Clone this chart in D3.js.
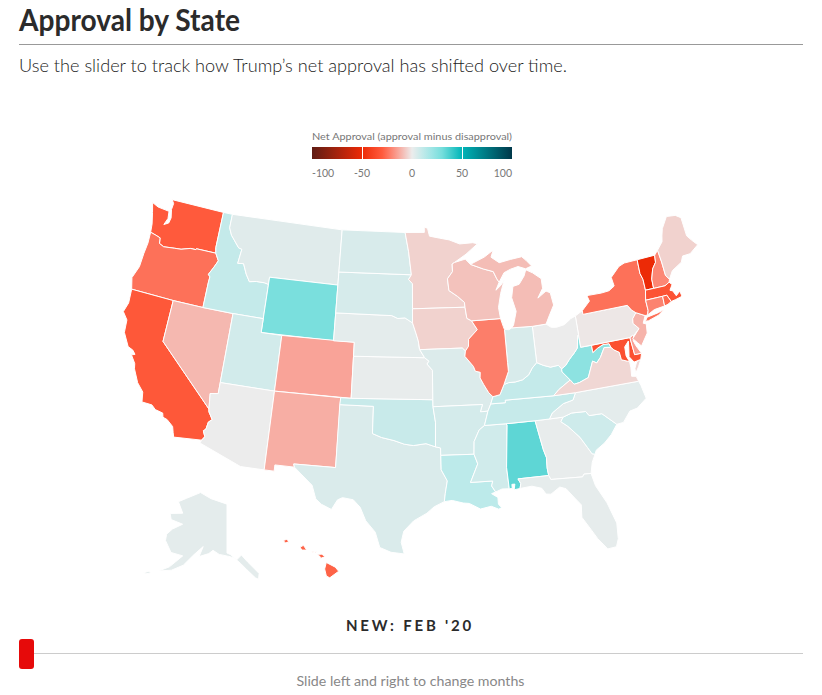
<!DOCTYPE html>
<html><head><meta charset="utf-8">
<script src="https://cdn.jsdelivr.net/npm/d3@7"></script>
<style>html,body{margin:0;padding:0;background:#fff}svg{display:block}</style>
</head><body><svg id="c" width="822" height="695"></svg>
<script>
const titleText = "Approval by State";
const subtitleText = "Use the slider to track how Trump\u2019s net approval has shifted over time.";
const legendTitle = "Net Approval (approval minus disapproval)";
const legendTicks = [-100,-50,0,50,100];
const sliderLabel = "NEW: FEB '20";
const sliderHint = "Slide left and right to change months";
const colorDomain = [-100,-50,-30,-15,0,15,30,50,100];
const colorRange = ['#5f1c14','#ec2a06','#ff5a3c','#fa9e92','#ececec','#b0e9e9','#76dedc','#00b5b8','#00384a'];
const netApproval = {WA:-30,OR:-25,CA:-31,NV:-10,ID:10,MT:3,WY:29,UT:6.5,CO:-14,AZ:0,NM:-12,ND:5,SD:5.5,NE:2,KS:1,OK:9,TX:4.5,MN:-5,IA:-5,MO:4,AR:6,LA:12,WI:-8,IL:-22,MS:7,MI:-9,IN:5,KY:10,TN:9.5,AL:34,OH:0,WV:24,VA:-4,NC:2,SC:7.5,GA:1,FL:1.5,PA:-1,NY:-25,VT:-50,NH:-20,ME:-5,MA:-33,CT:-21,RI:-27,NJ:-11,DE:-15,MD:-34,AK:2,HI:-28};
// State outlines, longitude/latitude rings
const outlines = {
WA:[[[-124.7,48.4],[-124.4,47.7],[-124.1,46.9],[-124,46.3],[-123.4,46.2],[-122.9,46.1],[-122.8,45.7],[-122.3,45.55],[-121.2,45.65],[-120.5,45.7],[-119.6,45.92],[-119,45.93],[-118.98,46],[-116.92,46],[-117.04,46.4],[-117.04,49],[-122.76,49],[-122.5,48.75],[-122.55,48.3],[-122.35,47.7],[-122.45,47.3],[-122.9,47.1],[-122.65,47.6],[-122.75,48.12],[-123.2,48.15],[-124,48.2]]],
OR:[[[-124,46.3],[-123.4,46.2],[-122.9,46.1],[-122.8,45.7],[-122.3,45.55],[-121.2,45.65],[-120.5,45.7],[-119.6,45.92],[-119,45.93],[-118.98,46],[-116.92,46],[-116.5,45.5],[-116.8,45],[-117.2,44.4],[-117,44.25],[-117.03,43.8],[-117.03,42],[-120,42],[-124.2,42],[-124.5,42.8],[-124.1,43.7],[-124.05,44.7],[-123.95,45.5]]],
CA:[[[-124.2,42],[-120,42],[-120,39],[-114.6,35],[-114.55,34.8],[-114.14,34.3],[-114.43,34.08],[-114.53,33.55],[-114.72,33.4],[-114.5,33],[-114.72,32.72],[-117.12,32.53],[-117.25,32.85],[-117.4,33.25],[-118,33.65],[-118.4,33.75],[-118.5,34.03],[-119.2,34.15],[-119.6,34.42],[-120.5,34.45],[-120.65,35.15],[-121.3,35.7],[-121.9,36.6],[-122,36.96],[-122.5,37.5],[-122.2,37.6],[-122.5,37.85],[-123,38],[-123.7,38.9],[-123.8,39.8],[-124.35,40.3],[-124.1,41]]],
NV:[[[-120,42],[-117.03,42],[-114.04,42],[-114.04,36.2],[-114.75,36.1],[-114.6,35],[-120,39]]],
ID:[[[-117.04,49],[-116.05,49],[-116.05,48],[-115.7,47.5],[-114.7,46.7],[-114.35,46.65],[-114.5,45.6],[-113.9,45.65],[-113.45,44.95],[-113,44.45],[-112.3,44.55],[-111.5,44.55],[-111.05,44.48],[-111.05,42],[-114.04,42],[-117.03,42],[-117.03,43.8],[-117,44.25],[-117.2,44.4],[-116.8,45],[-116.5,45.5],[-116.92,46],[-117.04,46.4]]],
MT:[[[-116.05,49],[-104.05,49],[-104.05,45],[-111.05,45],[-111.05,44.48],[-111.5,44.55],[-112.3,44.55],[-113,44.45],[-113.45,44.95],[-113.9,45.65],[-114.5,45.6],[-114.35,46.65],[-114.7,46.7],[-115.7,47.5],[-116.05,48]]],
WY:[[[-111.05,45],[-104.05,45],[-104.05,41],[-111.05,41]]],
UT:[[[-114.04,42],[-111.05,42],[-111.05,41],[-109.05,41],[-109.05,37],[-114.04,37]]],
CO:[[[-109.05,41],[-102.05,41],[-102.05,37],[-109.05,37]]],
AZ:[[[-114.04,37],[-109.05,37],[-109.05,31.33],[-111.07,31.33],[-114.81,32.5],[-114.72,32.72],[-114.5,33],[-114.72,33.4],[-114.53,33.55],[-114.43,34.08],[-114.14,34.3],[-114.55,34.8],[-114.6,35],[-114.75,36.1],[-114.04,36.2]]],
NM:[[[-109.05,37],[-103,37],[-103.04,32],[-106.62,32],[-106.53,31.78],[-108.2,31.78],[-108.2,31.33],[-109.05,31.33]]],
TX:[[[-103.04,36.5],[-100,36.5],[-100,34.56],[-99.2,34.3],[-98.1,34.1],[-97.2,33.85],[-96.4,33.75],[-95.3,33.88],[-94.48,33.64],[-94.04,33.55],[-94.04,33.02],[-94.04,31.99],[-93.55,31.18],[-93.75,30.3],[-93.85,29.7],[-94.7,29.35],[-95.3,28.9],[-96.4,28.35],[-97.2,27.6],[-97.4,26.8],[-97.15,25.96],[-98.2,26.07],[-99.1,26.4],[-99.5,27.5],[-100.3,28.3],[-100.8,29.25],[-101.4,29.77],[-102.3,29.88],[-102.7,29.7],[-103.15,28.98],[-104,29.3],[-104.5,29.65],[-104.9,30.6],[-106,31.4],[-106.53,31.78],[-106.62,32],[-103.04,32]]],
OK:[[[-103,37],[-102.05,37],[-94.62,37],[-94.62,36.5],[-94.43,35.4],[-94.48,33.64],[-95.3,33.88],[-96.4,33.75],[-97.2,33.85],[-98.1,34.1],[-99.2,34.3],[-100,34.56],[-100,36.5],[-103.04,36.5]]],
KS:[[[-102.05,40],[-95.31,40],[-94.9,39.75],[-95.1,39.55],[-94.6,39.1],[-94.62,37],[-102.05,37]]],
NE:[[[-104.05,43],[-98.5,43],[-97.9,42.8],[-97.2,42.85],[-96.45,42.49],[-96.1,41.7],[-95.9,41.2],[-95.8,40.6],[-95.31,40],[-102.05,40],[-102.05,41],[-104.05,41]]],
SD:[[[-104.05,45.94],[-96.56,45.94],[-96.85,45.6],[-96.45,45.3],[-96.45,43.5],[-96.45,42.49],[-97.2,42.85],[-97.9,42.8],[-98.5,43],[-104.05,43]]],
ND:[[[-104.05,49],[-97.23,49],[-96.85,47.6],[-96.56,45.94],[-104.05,45.94]]],
MN:[[[-97.23,49],[-95.15,49],[-95.15,49.38],[-94.8,49.3],[-94.6,48.72],[-93.5,48.55],[-92.5,48.4],[-91.4,48.07],[-90,48.1],[-89.5,48],[-90.8,47.3],[-92.05,46.75],[-92.3,46.65],[-92.3,46.1],[-92.85,45.6],[-92.75,44.75],[-91.9,44.3],[-91.25,43.85],[-91.22,43.5],[-96.45,43.5],[-96.45,45.3],[-96.85,45.6],[-96.56,45.94],[-96.85,47.6]]],
IA:[[[-96.45,43.5],[-91.22,43.5],[-91.1,42.7],[-90.65,42.5],[-90.15,41.85],[-91.05,41.2],[-91.1,40.7],[-91.42,40.38],[-91.7,40.6],[-95.77,40.58],[-95.9,41.2],[-96.1,41.7],[-96.45,42.49]]],
MO:[[[-95.77,40.58],[-91.7,40.6],[-91.42,40.38],[-91.5,40],[-90.75,39.25],[-90.6,38.9],[-90.15,38.8],[-90.2,38.4],[-89.9,37.9],[-89.5,37.3],[-89.15,37],[-89.4,36.5],[-89.7,36],[-90.38,35.99],[-90.15,36.5],[-94.62,36.5],[-94.62,37],[-94.6,39.1],[-95.1,39.55],[-94.9,39.75],[-95.31,40]]],
AR:[[[-94.62,36.5],[-90.15,36.5],[-90.38,35.99],[-89.7,36],[-90.1,35],[-90.6,34.7],[-91.1,33.9],[-91.17,33],[-94.04,33.02],[-94.04,33.55],[-94.48,33.64],[-94.43,35.4]]],
LA:[[[-94.04,33.02],[-91.17,33],[-90.9,32.3],[-91.6,31],[-89.73,31],[-89.85,30.65],[-89.55,30.2],[-89.9,30.1],[-89.4,29.8],[-89.4,29.3],[-89.15,29.05],[-89.4,28.95],[-90,29.2],[-90.9,29.05],[-91.8,29.5],[-92.3,29.55],[-93.2,29.77],[-93.85,29.7],[-93.75,30.3],[-93.55,31.18],[-94.04,31.99]]],
MS:[[[-91.17,33],[-91.1,33.9],[-90.6,34.7],[-90.1,35],[-88.2,35],[-88.1,34.9],[-88.47,31.9],[-88.4,30.35],[-89,30.38],[-89.55,30.2],[-89.85,30.65],[-89.73,31],[-91.6,31],[-90.9,32.3]]],
AL:[[[-88.2,35],[-85.6,35],[-85.18,32.87],[-85,32.3],[-85.05,31.55],[-85,31],[-87.6,31],[-87.4,30.65],[-87.5,30.3],[-88,30.25],[-87.9,30.65],[-88.15,30.65],[-88.15,30.35],[-88.4,30.35],[-88.47,31.9],[-88.1,34.9]]],
GA:[[[-85.6,35],[-84.32,35],[-83.1,35],[-83.35,34.7],[-82.8,34.3],[-81.9,33.4],[-81.4,32.6],[-81.1,32.1],[-80.85,32.03],[-81.2,31.5],[-81.45,30.72],[-82.05,30.75],[-82.2,30.57],[-84.86,30.7],[-85,31],[-85.05,31.55],[-85,32.3],[-85.18,32.87]]],
FL:[[[-87.6,31],[-85,31],[-84.86,30.7],[-82.2,30.57],[-82.05,30.75],[-81.45,30.72],[-81.25,29.8],[-80.55,28.45],[-80.05,26.9],[-80.15,25.75],[-80.4,25.2],[-81.1,25.15],[-81.75,26],[-82.15,26.7],[-82.75,27.7],[-82.65,28.6],[-83.1,29.15],[-83.7,29.9],[-84.2,30.08],[-85,29.65],[-85.4,29.7],[-85.7,30.15],[-86.5,30.38],[-87.5,30.3],[-87.4,30.65]]],
SC:[[[-83.1,35],[-82.3,35.2],[-81.05,35.15],[-80.8,34.82],[-79.67,34.8],[-78.55,33.86],[-79.2,33.2],[-79.9,32.7],[-80.7,32.3],[-80.85,32.03],[-81.1,32.1],[-81.4,32.6],[-81.9,33.4],[-82.8,34.3],[-83.35,34.7]]],
NC:[[[-84.32,35],[-83.1,35],[-82.3,35.2],[-81.05,35.15],[-80.8,34.82],[-79.67,34.8],[-78.55,33.86],[-77.95,33.9],[-77.2,34.6],[-76.5,34.7],[-75.55,35.25],[-75.75,36.2],[-75.87,36.55],[-81.68,36.59],[-82,36.1],[-82.9,35.95],[-84,35.4]]],
TN:[[[-90.1,35],[-88.2,35],[-85.6,35],[-84.32,35],[-84,35.4],[-82.9,35.95],[-82,36.1],[-81.68,36.59],[-83.68,36.6],[-88.07,36.68],[-88.07,36.5],[-89.4,36.5],[-89.7,36]]],
KY:[[[-89.4,36.5],[-88.07,36.5],[-88.07,36.68],[-83.68,36.6],[-83.1,37],[-81.97,37.54],[-82.6,38.2],[-82.6,38.42],[-82.85,38.7],[-83.6,38.65],[-84.25,38.85],[-84.82,39.1],[-85.3,38.75],[-85.7,38.3],[-86.3,38],[-87,37.9],[-87.6,37.9],[-88.05,37.8],[-88.5,37.1],[-89.15,37]]],
WV:[[[-82.6,38.42],[-82.2,38.6],[-81.75,39],[-81.2,39.4],[-80.85,39.7],[-80.6,40.6],[-80.52,40.64],[-80.52,39.72],[-79.48,39.72],[-79.48,39.2],[-78.95,39.45],[-78.4,39.62],[-77.83,39.6],[-77.72,39.32],[-78.35,39.4],[-78.87,38.76],[-79.3,38.42],[-79.65,38.6],[-80.3,37.5],[-81.2,37.25],[-81.68,37.2],[-81.97,37.54],[-82.6,38.2]]],
VA:[[[-83.68,36.6],[-81.68,36.59],[-75.87,36.55],[-76,36.93],[-76.4,37],[-76.3,37.6],[-76.3,38.05],[-77,38.3],[-77.05,38.85],[-77.5,39.1],[-77.72,39.32],[-78.35,39.4],[-78.87,38.76],[-79.3,38.42],[-79.65,38.6],[-80.3,37.5],[-81.2,37.25],[-81.68,37.2],[-81.97,37.54],[-83.1,37]],[[-75.98,37.15],[-75.6,37.55],[-75.25,38.03],[-75.65,37.95],[-75.95,37.5]]],
MD:[[[-79.48,39.72],[-75.79,39.72],[-75.7,38.46],[-75.05,38.45],[-75.25,38.03],[-75.9,37.95],[-76.25,38.4],[-76.1,39],[-76,39.5],[-76.45,39.15],[-76.5,38.5],[-76.3,38.05],[-77,38.3],[-77.05,38.85],[-77.5,39.1],[-77.72,39.32],[-77.83,39.6],[-78.4,39.62],[-78.95,39.45],[-79.48,39.2]]],
DE:[[[-75.79,39.72],[-75.5,39.84],[-75.4,39.8],[-75.55,39.45],[-75.4,39.05],[-75.05,38.45],[-75.7,38.46]]],
PA:[[[-80.52,41.98],[-79.76,42.27],[-79.76,42],[-75.35,42],[-75.05,41.6],[-74.7,41.35],[-75.13,40.98],[-75.2,40.65],[-74.75,40.2],[-75.4,39.8],[-75.5,39.84],[-75.79,39.72],[-80.52,39.72],[-80.52,40.64]]],
NJ:[[[-74.7,41.35],[-73.9,41],[-74.25,40.5],[-73.98,40.4],[-74.1,39.75],[-74.9,38.95],[-75.2,39.25],[-75.55,39.6],[-74.75,40.2],[-75.2,40.65],[-75.13,40.98]]],
NY:[[[-79.76,42.27],[-79.76,42],[-75.35,42],[-75.05,41.6],[-74.7,41.35],[-73.9,41],[-73.65,41],[-73.5,41.3],[-73.5,42.05],[-73.27,42.75],[-73.25,43.55],[-73.4,44],[-73.34,45.01],[-74.7,45],[-75.3,44.85],[-76.3,44.2],[-76.2,43.55],[-76.8,43.3],[-77.6,43.25],[-79.05,43.27],[-78.9,42.85]],[[-74,40.6],[-73.75,40.85],[-72.6,40.97],[-72,41.1],[-72.6,40.8],[-73.7,40.58]]],
VT:[[[-73.34,45.01],[-71.5,45.01],[-71.6,44.5],[-72.05,44.1],[-72.4,43.4],[-72.45,42.73],[-73.27,42.75],[-73.25,43.55],[-73.4,44]]],
NH:[[[-71.5,45.01],[-71.08,45.3],[-71,44.4],[-70.98,43.4],[-70.7,43.07],[-70.82,42.87],[-71.3,42.7],[-72.45,42.73],[-72.4,43.4],[-72.05,44.1],[-71.6,44.5]]],
ME:[[[-71.08,45.3],[-70.4,45.8],[-70.25,46.2],[-70,46.7],[-69.23,47.46],[-68.3,47.35],[-67.8,47.07],[-67.8,45.7],[-67.45,45.3],[-67,44.85],[-68,44.4],[-68.8,44.4],[-69.1,44],[-70.2,43.6],[-70.7,43.07],[-70.98,43.4],[-71,44.4]]],
MA:[[[-73.5,42.05],[-71.8,42.02],[-71.38,42.02],[-71.12,41.5],[-70.65,41.55],[-69.98,41.65],[-70.05,42.05],[-70.5,41.8],[-70.7,42.2],[-70.95,42.3],[-70.6,42.65],[-70.82,42.87],[-71.3,42.7],[-72.45,42.73],[-73.27,42.75]]],
CT:[[[-73.5,42.05],[-71.8,42.02],[-71.85,41.32],[-72.9,41.25],[-73.65,41],[-73.5,41.3]]],
RI:[[[-71.8,42.02],[-71.38,42.02],[-71.12,41.5],[-71.5,41.37],[-71.85,41.32]]],
OH:[[[-84.82,39.1],[-84.8,41.7],[-83.45,41.73],[-83,41.45],[-82.5,41.4],[-81.7,41.5],[-81,41.85],[-80.52,41.98],[-80.52,40.64],[-80.6,40.6],[-80.85,39.7],[-81.2,39.4],[-81.75,39],[-82.2,38.6],[-82.6,38.42],[-82.85,38.7],[-83.6,38.65],[-84.25,38.85]]],
IN:[[[-87.52,41.7],[-87.1,41.65],[-86.8,41.76],[-84.8,41.7],[-84.82,39.1],[-85.3,38.75],[-85.7,38.3],[-86.3,38],[-87,37.9],[-87.6,37.9],[-88.05,37.8],[-87.53,38.7],[-87.53,39.35]]],
IL:[[[-90.65,42.5],[-87.8,42.5],[-87.6,41.9],[-87.52,41.7],[-87.53,39.35],[-87.53,38.7],[-88.05,37.8],[-88.5,37.1],[-89.15,37],[-89.5,37.3],[-89.9,37.9],[-90.2,38.4],[-90.15,38.8],[-90.6,38.9],[-90.75,39.25],[-91.5,40],[-91.42,40.38],[-91.1,40.7],[-91.05,41.2],[-90.15,41.85]]],
WI:[[[-92.3,46.65],[-92.05,46.75],[-90.9,46.95],[-90.4,46.55],[-89.1,46.15],[-88.1,45.9],[-87.8,45.35],[-87.6,45.1],[-88,44.55],[-87.4,44.9],[-87.05,45.25],[-87.55,44.3],[-87.9,43.3],[-87.8,42.5],[-90.65,42.5],[-91.1,42.7],[-91.22,43.5],[-91.25,43.85],[-91.9,44.3],[-92.75,44.75],[-92.85,45.6],[-92.3,46.1]]],
MI:[[[-86.8,41.76],[-84.8,41.7],[-83.45,41.73],[-83.1,42.2],[-82.45,43],[-82.6,43.9],[-83,44.07],[-83.9,43.65],[-83.3,44.3],[-83.3,45],[-84.1,45.5],[-84.75,45.78],[-85,45.35],[-85.6,44.8],[-86.25,44.7],[-86.5,43.9],[-86.2,42.9],[-86.6,41.95]],[[-90.4,46.55],[-89.1,46.15],[-88.1,45.9],[-87.8,45.35],[-87.6,45.1],[-87,45.75],[-86.3,45.95],[-85.5,46.08],[-84.75,45.85],[-84.1,46],[-84.6,46.45],[-85,46.75],[-86.2,46.65],[-87.4,46.5],[-88.2,46.95],[-87.9,47.45],[-88.9,47]]],
AK:[[[-141,69.65],[-141,60.3],[-139.5,59.95],[-137.5,58.9],[-135.5,59.8],[-133.5,58.4],[-130,55.9],[-130.5,54.8],[-131.5,55.2],[-134,56.9],[-136,58.2],[-138,59.2],[-139.8,59.6],[-144,60],[-146.5,60.7],[-148,60],[-151.5,59.2],[-150.5,61.2],[-153.5,59.4],[-156.5,57],[-160,55.5],[-164,54.6],[-161,56],[-157.5,58.7],[-162,58.7],[-165.5,60.5],[-166,61.7],[-164.5,63],[-161,64.5],[-166.5,64.6],[-168,65.6],[-162.5,66.5],[-166.5,68.3],[-163,69.5],[-156.5,71.3],[-150,70.5]],[[-166.9,53.9],[-166.2,53.7],[-167.5,53.2],[-168.3,53.2]]],
HI:[[[-155.9,20.25],[-155.1,19.85],[-154.8,19.5],[-155.6,18.95],[-155.9,19.1],[-156.05,19.7]],[[-156.7,20.95],[-156.3,20.95],[-156,20.75],[-156.4,20.6],[-156.5,20.8]],[[-158.25,21.55],[-157.95,21.7],[-157.65,21.3],[-158.1,21.3]],[[-159.75,22.1],[-159.4,22.23],[-159.3,21.95],[-159.6,21.9]],[[-157.3,21.2],[-156.75,21.17],[-157,21.08]]]
};

const svg = d3.select('#c');
const color = d3.scaleLinear().domain(colorDomain).range(colorRange).clamp(true);
const lower48 = d3.geoAlbers().rotate([98,0]).center([0,38.7]).parallels([29.5,45.5]).scale(797).translate([396,376]).angle(-0.8);
const akProj = d3.geoConicEqualArea().rotate([141,0]).center([0,60.3]).parallels([55,65]).scale(300).translate([227,553]);
const hiProj = d3.geoConicEqualArea().rotate([157,0]).center([0,20.8]).parallels([8,18]).scale(680).translate([314,556]);
const projFor = s => s==='AK'?akProj:s==='HI'?hiProj:lower48;
function feature(rings){
  const fixed = rings.map(r=>{
    let c = r.concat([r[0]]);
    if(d3.geoArea({type:'Polygon',coordinates:[c]})>2*Math.PI) c = c.slice().reverse();
    return [c];
  });
  return {type:'MultiPolygon',coordinates:fixed};
}
const stateCodes = Object.keys(outlines);
svg.append('g').selectAll('path').data(stateCodes).join('path')
  .attr('d',s=>d3.geoPath(projFor(s))(feature(outlines[s])))
  .attr('fill',s=>color(netApproval[s]))
  .attr('stroke','#fff').attr('stroke-width',1).attr('stroke-linejoin','round');

// Header
svg.append('text').text(titleText).attr('x',19).attr('y',31).attr('font-family','Lato').attr('font-weight',700)
  .attr('font-size',30).attr('fill','#2b2b2b').attr('textLength',221).attr('lengthAdjust','spacingAndGlyphs');
svg.append('line').attr('x1',19).attr('x2',803).attr('y1',44.5).attr('y2',44.5).attr('stroke','#999');
svg.append('text').text(subtitleText).attr('x',19).attr('y',72).attr('font-family','Lato').attr('font-weight',300).attr('font-size',18.5)
  .attr('fill','#222').attr('textLength',548).attr('lengthAdjust','spacingAndGlyphs');

// Legend
const lx = d3.scaleLinear().domain([-100,100]).range([312,512]);
const defs = svg.append('defs');
const grad = defs.append('linearGradient').attr('id','lg');
d3.range(-100,101,10).forEach(v=>grad.append('stop').attr('offset',((v+100)/200*100)+'%').attr('stop-color',color(v)));
svg.append('rect').attr('x',lx(-100)).attr('y',147).attr('width',lx(100)-lx(-100)).attr('height',12).attr('fill','url(#lg)');
svg.append('text').text(legendTitle).attr('x',412).attr('y',140).attr('text-anchor','middle').attr('font-family','Lato')
  .attr('font-size',10).attr('fill','#777').attr('textLength',200).attr('lengthAdjust','spacingAndGlyphs');
const lg = svg.append('g');
lg.selectAll('line').data([-50,50]).join('line').attr('x1',d=>lx(d)+.5).attr('x2',d=>lx(d)+.5).attr('y1',147).attr('y2',159).attr('stroke','#fff');
lg.selectAll('text').data(legendTicks).join('text').text(d=>d)
  .attr('x',d=>lx(d))
  .attr('text-anchor',d=>d===-100?'start':d===100?'end':'middle')
  .attr('y',177).attr('font-family','Lato').attr('font-size',10.5).attr('fill','#777');

// Slider
svg.append('text').text(sliderLabel).attr('x',410).attr('y',631).attr('text-anchor','middle').attr('font-family','Lato')
  .attr('font-weight',700).attr('font-size',15).attr('letter-spacing',2.8).attr('fill','#2b2b2b');
svg.append('line').attr('x1',34).attr('x2',803).attr('y1',653.5).attr('y2',653.5).attr('stroke','#ccc');
svg.append('rect').attr('x',19).attr('y',639).attr('width',15).attr('height',30).attr('rx',3).attr('fill','#e60a0a');
svg.append('text').text(sliderHint).attr('x',410.5).attr('y',686).attr('text-anchor','middle').attr('font-family','Lato')
  .attr('font-size',13.5).attr('fill','#888').attr('textLength',228).attr('lengthAdjust','spacingAndGlyphs');
</script></body></html>
